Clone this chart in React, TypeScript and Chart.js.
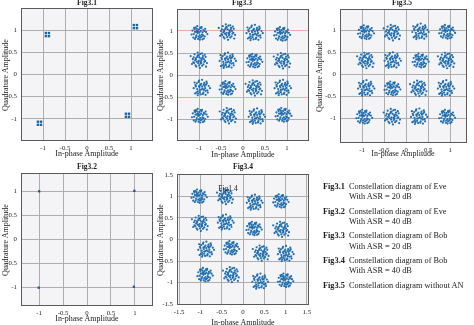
import React, { useEffect, useRef } from "react";
import { Chart, registerables } from "chart.js";
Chart.register(...registerables);

// ---------- tick values / labels ----------
const TICKS_STD = [-1, -0.5, 0, 0.5, 1];
const TICK_LABELS_STD = ["-1", "-0.5", "0", "0.5", "1"];
const TICKS_WIDE = [-1.5, -1, -0.5, 0, 0.5, 1, 1.5];
const TICK_LABELS_WIDE = ["-1.5", "-1", "-0.5", "0", "0.5", "1", "1.5"];

// ---------- Fig3.1: Eve, ASR = 20 dB ----------
const fig31Points: [number, number][] = [
  [-0.935, 0.935], [-0.865, 0.935], [-0.935, 0.865], [-0.865, 0.865],
  [1.065, 1.115], [1.135, 1.115], [1.065, 1.045], [1.135, 1.045],
  [-1.115, -1.065], [-1.045, -1.065], [-1.115, -1.135], [-1.045, -1.135],
  [0.885, -0.885], [0.955, -0.885], [0.885, -0.955], [0.955, -0.955],
];

// ---------- Fig3.2: Eve, ASR = 40 dB ----------
const fig32Points: [number, number][] = [
  [-1.0, 1.0], [0.99, 1.01], [-1.01, -1.0], [0.98, -0.98],
];

// ---------- cluster centres ----------
const fig33Centers: [number, number][] = [
  [-1.0, 0.95], [-0.36, 0.97], [0.25, 0.95], [0.88, 0.93],
  [-1.0, 0.33], [-0.36, 0.32], [0.25, 0.32], [0.89, 0.32],
  [-0.95, -0.3], [-0.36, -0.3], [0.25, -0.3], [0.89, -0.3],
  [-0.99, -0.93], [-0.34, -0.93], [0.3, -0.95], [0.91, -0.91],
];
const fig34Centers: [number, number][] = [
  [-1.04, 1.0], [-0.42, 0.99], [0.26, 0.85], [0.88, 0.89],
  [-1.01, 0.37], [-0.42, 0.39], [0.25, 0.25], [0.9, 0.23],
  [-0.88, -0.24], [-0.28, -0.2], [0.42, -0.32], [0.99, -0.34],
  [-0.9, -0.82], [-0.28, -0.82], [0.39, -0.98], [0.99, -0.95],
];
const fig35Centers: [number, number][] = [
  [-0.92, 0.95], [-0.32, 0.94], [0.31, 0.96], [0.92, 0.96],
  [-0.92, 0.31], [-0.32, 0.31], [0.32, 0.31], [0.91, 0.31],
  [-0.92, -0.32], [-0.32, -0.32], [0.28, -0.32], [0.89, -0.32],
  [-0.96, -0.96], [-0.32, -0.96], [0.28, -0.96], [0.92, -0.96],
];

// ---------- hand-read scatter offsets inside a cluster ----------
const spreadA: [number, number][] = [
  [0.01, 0.02], [-0.04, 0.06], [0.07, -0.03], [-0.06, -0.05], [0.1, 0.07], [-0.1, 0.09], [0.03, -0.1], [-0.12, -0.02],
  [0.05, 0.11], [-0.02, -0.13], [0.13, -0.07], [-0.08, 0.13], [0.08, 0.02], [-0.09, 0.03], [0.02, -0.05], [-0.03, 0.0],
  [0.06, 0.14], [-0.15, 0.06], [0.11, -0.12], [0.0, 0.09], [-0.07, -0.09], [0.04, 0.05], [-0.01, -0.08], [0.16, 0.03],
  [-0.13, -0.1], [0.09, -0.05], [-0.05, 0.1], [0.02, -0.15], [-0.04, 0.16], [0.14, 0.1], [-0.17, -0.03], [0.06, -0.08],
  [-0.11, 0.12], [0.03, 0.13], [0.19, -0.02], [-0.06, 0.03], [0.12, 0.05], [-0.02, 0.04], [0.08, -0.14], [-0.09, -0.13],
];
const spreadB: [number, number][] = [
  [-0.01, -0.01], [0.05, 0.04], [-0.07, 0.02], [0.04, -0.07], [-0.11, -0.06], [0.09, 0.1], [-0.03, 0.11], [0.12, -0.03],
  [-0.08, -0.11], [0.01, 0.07], [0.15, 0.08], [-0.14, 0.03], [0.07, -0.12], [-0.05, -0.03], [0.03, 0.15], [-0.1, 0.14],
  [0.1, -0.09], [-0.02, -0.06], [0.06, 0.01], [-0.16, -0.08], [0.18, -0.06], [-0.04, 0.08], [0.0, -0.11], [0.08, 0.06],
  [-0.12, 0.07], [0.13, 0.13], [-0.06, -0.14], [0.04, -0.02], [-0.09, 0.0], [0.11, 0.03], [-0.03, 0.18], [0.02, -0.17],
  [0.16, -0.14], [-0.13, -0.04], [0.07, 0.16], [-0.19, 0.1], [0.05, -0.05], [-0.07, 0.05], [0.14, -0.01], [-0.01, 0.12],
];
const spreadC: [number, number][] = [
  [0.03, -0.01], [-0.05, 0.05], [0.08, 0.05], [-0.08, -0.07], [0.0, 0.1], [0.1, -0.06], [-0.12, 0.04], [0.05, -0.1],
  [-0.03, -0.04], [0.13, 0.11], [-0.1, 0.11], [0.02, 0.04], [-0.14, -0.12], [0.09, 0.0], [-0.06, 0.14], [0.15, -0.1],
  [-0.01, -0.14], [0.06, 0.08], [-0.09, -0.02], [0.12, 0.15], [-0.17, 0.0], [0.04, -0.13], [-0.04, 0.02], [0.17, 0.05],
  [-0.11, -0.1], [0.07, 0.12], [-0.02, 0.07], [0.1, -0.15], [-0.07, -0.12], [0.0, -0.03], [0.2, 0.0], [-0.15, 0.13],
  [0.06, -0.04], [-0.05, 0.17], [0.11, 0.08], [-0.13, 0.07], [0.02, 0.19], [-0.08, -0.16], [0.14, -0.05], [-0.03, -0.09],
];
const SPREADS = [spreadA, spreadB, spreadC];

// ---------- legend text ----------
const legendTags = ["Fig3.1", "Fig3.2", "Fig3.3", "Fig3.4", "Fig3.5"];
const legendLine1 = [
  "Constellation diagram of Eve",
  "Constellation diagram of Eve",
  "Constellation diagram of Bob",
  "Constellation diagram of Bob",
  "Constellation diagram without AN",
];
const legendLine2 = ["With ASR = 20 dB", "With ASR = 40 dB", "With ASR = 20 dB", "With ASR = 40 dB", ""];

// ---------- styling ----------
const SERIF = "'Liberation Serif', 'Times New Roman', serif";
const BG = "#f4f3f6";
const GRID = "#adadad";
const GRID_WARM = "#e8b0a4";
const FRAME = "#5a5a5a";
const DOT = "#1c6db2";
const YW = 24; // room for y tick labels
const XH = 13; // room for x tick labels
const PT = 2;
const PR = 2;

const toXY = (pts: [number, number][]) => pts.map(([x, y]) => ({ x, y }));
const clusters = (centers: [number, number][]) => {
  const out: { x: number; y: number }[] = [];
  centers.forEach(([cx, cy], i) => {
    SPREADS[i % SPREADS.length].forEach(([dx, dy]) => out.push({ x: cx + dx, y: cy + dy }));
  });
  return out;
};

type PanelProps = {
  id: string;
  left: number;
  top: number;
  w: number;
  h: number;
  xMin: number;
  xMax: number;
  yMin: number;
  yMax: number;
  xTicks: number[];
  xLabels: string[];
  yTicks: number[];
  yLabels: string[];
  datasets: any[];
  warmY?: number[];
};

function Panel(p: PanelProps) {
  const ref = useRef<HTMLCanvasElement>(null);
  const cw = YW + p.w + PR;
  const ch = PT + p.h + XH;
  useEffect(() => {
    const frame = {
      id: "frame_" + p.id,
      beforeDraw(chart: any) {
        const a = chart.chartArea;
        const c = chart.ctx;
        c.save();
        c.fillStyle = BG;
        c.fillRect(a.left, a.top, a.right - a.left, a.bottom - a.top);
        c.restore();
      },
      afterDraw(chart: any) {
        const a = chart.chartArea;
        const c = chart.ctx;
        c.save();
        c.strokeStyle = FRAME;
        c.lineWidth = 1;
        c.strokeRect(Math.round(a.left) + 0.5, Math.round(a.top) + 0.5, Math.round(a.right - a.left) - 1, Math.round(a.bottom - a.top) - 1);
        c.restore();
      },
    };
    const tickFont = { family: SERIF, size: 6.8 };
    const chart = new Chart(ref.current as HTMLCanvasElement, {
      type: "scatter",
      data: { datasets: p.datasets },
      options: {
        responsive: false,
        animation: false,
        events: [],
        layout: { padding: { top: PT, right: PR, left: 0, bottom: 0 }, autoPadding: false },
        plugins: { legend: { display: false }, tooltip: { enabled: false }, title: { display: false } },
        scales: {
          x: {
            type: "linear",
            min: p.xMin,
            max: p.xMax,
            afterBuildTicks: (s: any) => {
              s.ticks = p.xTicks.map((v) => ({ value: v }));
            },
            afterFit: (s: any) => {
              s.height = XH;
              s.paddingLeft = 0;
              s.paddingRight = 0;
              s.paddingTop = 0;
              s.paddingBottom = 0;
            },
            ticks: {
              font: tickFont,
              color: "#222",
              padding: 3,
              maxRotation: 0,
              autoSkip: false,
              callback: (v: any) => {
                const i = p.xTicks.indexOf(Number(v));
                return i >= 0 ? p.xLabels[i] : "";
              },
            },
            grid: { color: GRID, lineWidth: 1, drawTicks: false },
            border: { display: false },
          },
          y: {
            type: "linear",
            min: p.yMin,
            max: p.yMax,
            afterBuildTicks: (s: any) => {
              s.ticks = p.yTicks.map((v) => ({ value: v }));
            },
            afterFit: (s: any) => {
              s.width = YW;
              s.paddingLeft = 0;
              s.paddingRight = 0;
              s.paddingTop = 0;
              s.paddingBottom = 0;
            },
            ticks: {
              font: tickFont,
              color: "#222",
              padding: 4,
              autoSkip: false,
              callback: (v: any) => {
                const i = p.yTicks.indexOf(Number(v));
                return i >= 0 ? p.yLabels[i] : "";
              },
            },
            grid: {
              color: (ctx: any) => (p.warmY && ctx.tick && p.warmY.includes(ctx.tick.value) ? GRID_WARM : GRID),
              lineWidth: 1,
              drawTicks: false,
            },
            border: { display: false },
          },
        },
      },
      plugins: [frame],
    } as any);
    return () => chart.destroy();
  }, []);
  return (
    <canvas
      ref={ref}
      width={cw}
      height={ch}
      style={{ position: "absolute", left: p.left - YW, top: p.top - PT, width: cw, height: ch }}
    />
  );
}

const txt = (s: string, cx: number, cy: number, size: number, bold = false) => (
  <div
    style={{
      position: "absolute",
      left: cx,
      top: cy,
      transform: "translate(-50%, -50%)",
      fontFamily: SERIF,
      fontSize: size,
      lineHeight: 1,
      fontWeight: bold ? 700 : 400,
      whiteSpace: "nowrap",
      color: "#1a1a1a",
    }}
  >
    {s}
  </div>
);

const vtxt = (s: string, cx: number, cy: number, size: number) => (
  <div
    style={{
      position: "absolute",
      left: cx,
      top: cy,
      transform: "translate(-50%, -50%) rotate(-90deg)",
      fontFamily: SERIF,
      fontSize: size,
      lineHeight: 1,
      whiteSpace: "nowrap",
      color: "#1a1a1a",
    }}
  >
    {s}
  </div>
);

const scatterSet = (data: any[], radius: number, style: string, color: string) => ({
  data,
  pointRadius: radius,
  pointStyle: style,
  backgroundColor: color,
  borderWidth: 0,
  showLine: false,
});

export default function App() {
  const dense = (c: [number, number][]) => [scatterSet(clusters(c), 1.1, "circle", DOT)];
  const legendStyle = (left: number, top: number, bold: boolean) => ({
    position: "absolute" as const,
    left,
    top,
    fontFamily: SERIF,
    fontSize: 8.3,
    lineHeight: "10px",
    fontWeight: bold ? 700 : 400,
    whiteSpace: "nowrap" as const,
    color: "#1a1a1a",
  });
  return (
    <div style={{ position: "absolute", left: 0, top: 0, width: 474, height: 325, background: "#fff", overflow: "hidden" }}>
      <Panel id="f31" left={21} top={8} w={132} h={133} xMin={-1.5} xMax={1.5} yMin={-1.5} yMax={1.5}
        xTicks={TICKS_STD} xLabels={TICK_LABELS_STD} yTicks={TICKS_STD} yLabels={TICK_LABELS_STD}
        datasets={[scatterSet(toXY(fig31Points), 1.7, "rect", "#1764a8")]} />
      <Panel id="f33" left={177} top={9} w={132} h={132} xMin={-1.5} xMax={1.5} yMin={-1.5} yMax={1.5}
        xTicks={TICKS_STD} xLabels={TICK_LABELS_STD} yTicks={TICKS_STD} yLabels={TICK_LABELS_STD}
        datasets={dense(fig33Centers)} warmY={[1, -0.5]} />
      <Panel id="f35" left={340} top={9} w={127} h={134} xMin={-1.5} xMax={1.38} yMin={-1.55} yMax={1.48}
        xTicks={TICKS_STD} xLabels={TICK_LABELS_STD} yTicks={TICKS_STD} yLabels={TICK_LABELS_STD}
        datasets={dense(fig35Centers)} />
      <Panel id="f32" left={21} top={173} w={132} h={133} xMin={-1.38} xMax={1.38} yMin={-1.38} yMax={1.38}
        xTicks={TICKS_STD} xLabels={TICK_LABELS_STD} yTicks={TICKS_STD} yLabels={TICK_LABELS_STD}
        datasets={[scatterSet(toXY(fig32Points), 1.6, "rect", "#1d4f8c")]} />
      <Panel id="f34" left={177} top={174} w={132} h={131} xMin={-1.55} xMax={1.55} yMin={-1.52} yMax={1.52}
        xTicks={TICKS_WIDE} xLabels={TICK_LABELS_WIDE} yTicks={TICKS_WIDE} yLabels={TICK_LABELS_WIDE}
        datasets={dense(fig34Centers)} />

      {txt("Fig3.1", 87, 3, 7.5, true)}
      {txt("Fig3.3", 242, 3, 7.5, true)}
      {txt("Fig3.5", 402, 3, 7.5, true)}
      {txt("Fig3.2", 87, 167, 7.5, true)}
      {txt("Fig3.4", 243, 167, 7.5, true)}
      {txt("Fig1.4", 228, 189, 7.5)}

      {txt("In-phase Amplitude", 87, 154, 8)}
      {txt("In-phase Amplitude", 243, 155, 8)}
      {txt("In-phase Amplitude", 403, 153.5, 8)}
      {txt("In-phase Amplitude", 87, 318.5, 8)}
      {txt("In-phase Amplitude", 243, 322.5, 8)}

      {vtxt("Quadrature Amplitude", 6, 74.5, 8)}
      {vtxt("Quadrature Amplitude", 161, 75, 8)}
      {vtxt("Quadrature Amplitude", 320, 76, 8)}
      {vtxt("Quadrature Amplitude", 6, 239.5, 8)}
      {vtxt("Quadrature Amplitude", 161, 240, 8)}

      {legendTags.map((tag, i) => {
        const y0 = [186.5, 211.5, 236, 260.5, 286][i];
        return (
          <div key={tag}>
            <div style={legendStyle(323, y0 - 5, true)}>{tag}</div>
            <div style={legendStyle(349, y0 - 5, false)}>{legendLine1[i]}</div>
            {legendLine2[i] ? <div style={legendStyle(349, y0 + 5.5, false)}>{legendLine2[i]}</div> : null}
          </div>
        );
      })}
    </div>
  );
}
